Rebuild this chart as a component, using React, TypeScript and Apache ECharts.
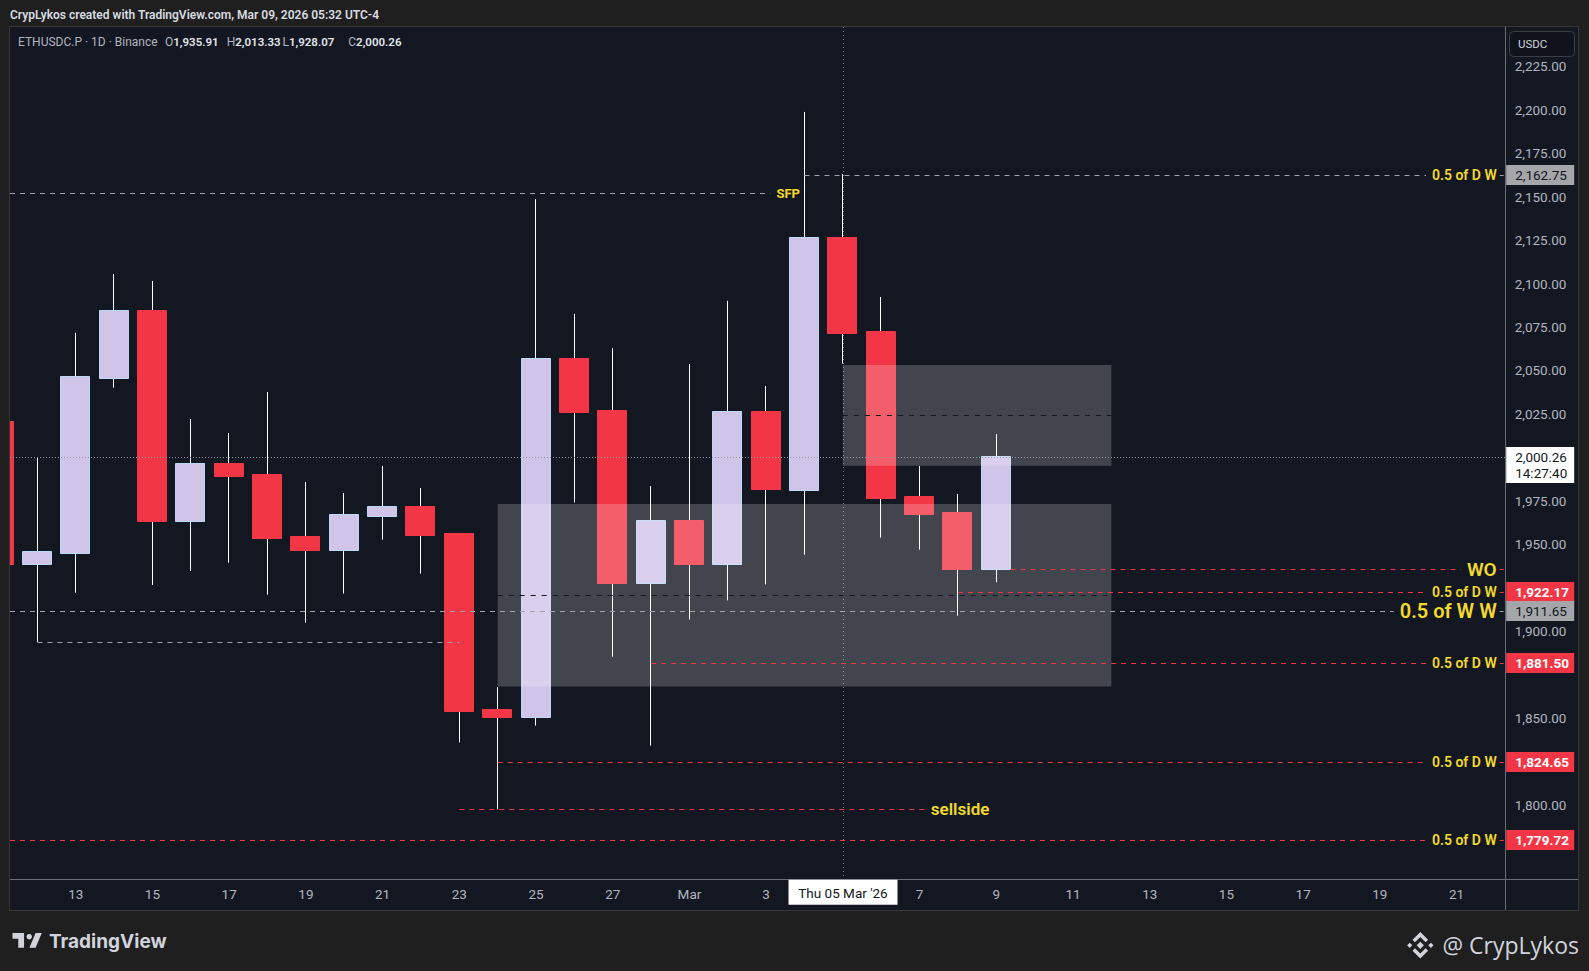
import React, { useEffect, useRef } from "react";
import * as echarts from "echarts";

// ---------------- data ----------------
const candleDates = [
  "Feb 11", "Feb 12", "Feb 13", "Feb 14", "Feb 15", "Feb 16", "Feb 17", "Feb 18", "Feb 19",
  "Feb 20", "Feb 21", "Feb 22", "Feb 23", "Feb 24", "Feb 25", "Feb 26", "Feb 27", "Feb 28",
  "Mar 1", "Mar 2", "Mar 3", "Mar 4", "Mar 5", "Mar 6", "Mar 7", "Mar 8", "Mar 9",
];
const opens = [2020.3, 1938.4, 1945.1, 2045.8, 2084.2, 1963.5, 1996.1, 1989.8, 1954.1, 1946.8, 1966.4, 1971.4, 1955.8, 1854.6, 1850.7, 2056.5, 2026.7, 1927.7, 1963.4, 1938.3, 2026.2, 1981.3, 2126.3, 2072.1, 1977.1, 1967.9, 1935.91];
const closes = [1938.4, 1945.3, 2046.1, 2084.2, 1963.5, 1996.0, 1989.2, 1953.7, 1946.6, 1966.6, 1971.4, 1955.3, 1854.2, 1850.4, 2056.5, 2026.2, 1927.7, 1963.4, 1938.3, 2026.2, 1981.5, 2126.3, 2071.7, 1976.7, 1967.5, 1935.9, 2000.26];
const lows = [1925.0, 1893.7, 1922.0, 2040.1, 1926.5, 1934.5, 1939.3, 1920.9, 1904.8, 1921.5, 1952.6, 1933.0, 1835.9, 1797.3, 1845.5, 1974.0, 1885.2, 1834.0, 1906.6, 1917.6, 1926.8, 1943.9, 2053.9, 1953.7, 1946.8, 1908.8, 1928.07];
const highs = [2031.0, 1999.8, 2071.6, 2105.5, 2101.5, 2022.0, 2014.0, 2037.6, 1985.8, 1979.4, 1995.0, 1982.3, 1956.4, 1867.8, 2148.6, 2082.6, 2062.8, 1983.4, 2053.7, 2090.1, 2041.0, 2198.8, 2163.1, 2092.3, 1995.0, 1978.9, 2013.33];

// time axis ticks (day index from Feb 11) and their labels
const xTickIdx = [2, 4, 6, 8, 10, 12, 14, 16, 18, 20, 24, 26, 28, 30, 32, 34, 36, 38];
const xTickLabels = ["13", "15", "17", "19", "21", "23", "25", "27", "Mar", "3", "7", "9", "11", "13", "15", "17", "19", "21"];
const yTickValues = [1800, 1825, 1850, 1900, 1950, 1975, 2025, 2050, 2075, 2100, 2125, 2150, 2175, 2200, 2225];

// horizontal levels: start / end day index (-10 = from left edge, 40 = ray to the right)
const levelValues = [2152.2, 2162.75, 1935.91, 1922.17, 1911.65, 1881.5, 1824.65, 1779.72, 1797.3, 1893.7, 2000.26];
const levelStarts = [-10, 21, 26.37, 25, -10, 17, 13, -10, 12, 1, -10];
const levelEnds = [20.88, 40, 40, 40, 40, 40, 40, 40, 25.82, 12, 40];
const levelLabels = ["SFP", "0.5 of D W", "WO", "0.5 of D W", "0.5 of W W", "0.5 of D W", "0.5 of D W", "0.5 of D W", "sellside", "", ""];
const levelKinds = ["gray", "gray", "red", "red", "gray", "red", "red", "red", "red", "gray", "dot"];

// rectangles (zones)
const zoneStarts = [22, 13];
const zoneEnds = [29, 29];
const zoneTops = [2053.14, 1973.06];
const zoneBottoms = [1995.16, 1868.05];

// price scale tags
const tagValues = [2162.75, 1922.17, 1911.65, 1881.5, 1824.65, 1779.72, 2000.26];
const tagKinds = ["gray", "red", "gray", "red", "red", "red", "last"];
const countdown = "14:27:40";
const crosshairIdx = 22;
const crosshairLabel = "Thu 05 Mar '26";

// ---------------- layout / style ----------------
const W = 1589;
const H = 971;
const GRID_L = 10;
const GRID_T = 27;
const GRID_W = 1495.7;
const GRID_H = 852.3;
const DAY_PX = 38.356;
const IDX0_PX = -0.956;
const X_MIN = (GRID_L - IDX0_PX) / DAY_PX;
const X_MAX = (GRID_L + GRID_W - IDX0_PX) / DAY_PX;
const Y_MIN = 1757.05;
const Y_MAX = 2247.7;

const FONT = 'Roboto, "Noto Sans", sans-serif';
const FRAME = "#1f1f1f";
const BG = "#131722";
const BULL = "#d1c4e9";
const BULL_BORDER = "#b9d9f7";
const BEAR = "#f23645";
const RED = "#f23645";
const GRAY = "#a0a3ab";
const DOT = "#9598a1";
const YELLOW = "#f3da2b";
const AXIS_TEXT = "#b2b5be";
const AXIS_LINE = "#6a6d78";
const BODY_W = 27;

const LABEL_STYLE: Record<string, { size: number; weight: number }> = {
  SFP: { size: 13, weight: 700 },
  "0.5 of D W": { size: 14, weight: 600 },
  WO: { size: 19, weight: 600 },
  "0.5 of W W": { size: 20, weight: 600 },
  sellside: { size: 17, weight: 600 },
};

let measureCtx: CanvasRenderingContext2D | null = null;
function textWidth(text: string, size: number, weight: number): number {
  if (!measureCtx) measureCtx = document.createElement("canvas").getContext("2d");
  if (!measureCtx) return text.length * size * 0.55;
  measureCtx.font = `${weight} ${size}px ${FONT}`;
  return measureCtx.measureText(text).width;
}

const fmt2 = (v: number) =>
  v.toLocaleString("en-US", { minimumFractionDigits: 2, maximumFractionDigits: 2 });

const xLabelMap: Record<number, string> = {};
xTickIdx.forEach((v, i) => (xLabelMap[v] = xTickLabels[i]));

function buildOption() {
  const last = candleDates.length - 1;
  const candleData = candleDates.map((_, i) => [i, opens[i], closes[i], lows[i], highs[i]]);
  const bodyData = candleDates.map((_, i) => [i, opens[i], closes[i]]);
  const zoneData = zoneStarts.map((s, i) => [s, zoneEnds[i], zoneTops[i], zoneBottoms[i]]);
  const levelData = levelValues.map((v, i) => [levelStarts[i], levelEnds[i], v]);
  const tagData = tagValues.map((v) => [X_MAX, v]);

  const dashLine = (x1: number, x2: number, y: number, stroke: string, dash: number[] | null) => ({
    type: "line",
    shape: { x1, y1: y, x2, y2: y },
    style: { stroke, lineWidth: 1, lineDash: dash || undefined },
  });

  const legendItems = [
    { x: 165, k: "O", v: fmt2(opens[last]) },
    { x: 226.7, k: "H", v: fmt2(highs[last]) },
    { x: 282.5, k: "L", v: fmt2(lows[last]) },
    { x: 348.3, k: "C", v: fmt2(closes[last]) },
  ];

  // TradingView logo (units -> px)
  const ls = 0.825, lox = 12.5, loy = 929.7;
  const lp = (pts: number[][]) => pts.map(([a, b]) => [lox + a * ls, loy + b * ls]);

  const bx = 1420.3, by = 945.3;
  const diamond = (cx: number, cy: number, r: number) => [[cx, cy - r], [cx + r, cy], [cx, cy + r], [cx - r, cy]];

  return {
    animation: false,
    backgroundColor: "transparent",
    grid: { left: GRID_L, top: GRID_T, width: GRID_W, height: GRID_H, containLabel: false, outerBoundsMode: "none" },
    xAxis: {
      type: "value",
      min: X_MIN,
      max: X_MAX,
      splitLine: { show: false },
      axisTick: { show: false },
      axisLine: { show: true, onZero: false, lineStyle: { color: AXIS_LINE, width: 1 } },
      axisLabel: {
        customValues: xTickIdx,
        formatter: (v: number) => xLabelMap[Math.round(v)] ?? "",
        color: AXIS_TEXT,
        fontSize: 13.5,
        fontFamily: FONT,
        margin: 8,
      },
    },
    yAxis: {
      type: "value",
      position: "right",
      min: Y_MIN,
      max: Y_MAX,
      splitLine: { show: false },
      axisTick: { show: false },
      axisLine: { show: true, lineStyle: { color: AXIS_LINE, width: 1 } },
      axisLabel: {
        customValues: yTickValues,
        formatter: (v: number) => fmt2(v),
        color: AXIS_TEXT,
        fontSize: 13.5,
        fontFamily: FONT,
        margin: 9,
        align: "left",
      },
    },
    series: [
      {
        type: "custom",
        name: "crosshair",
        z: 1,
        silent: true,
        clip: false,
        data: [[crosshairIdx, Y_MIN]],
        renderItem: (params: any, api: any) => {
          const cs = params.coordSys;
          const x = Math.round(api.coord([api.value(0), api.value(1)])[0]) + 0.5;
          const bottom = cs.y + cs.height;
          return {
            type: "group",
            children: [
              { type: "line", shape: { x1: x, y1: cs.y, x2: x, y2: bottom }, style: { stroke: "#787b86", lineWidth: 1, lineDash: [1, 3] } },
              { type: "rect", shape: { x: x - 55, y: bottom + 0.5, width: 109, height: 25 }, style: { fill: "#ffffff" } },
              {
                type: "text",
                x: x - 0.5,
                y: bottom + 13.5,
                style: { text: crosshairLabel, fill: "#131722", fontSize: 13.5, fontFamily: FONT, align: "center", verticalAlign: "middle" },
              },
            ],
          };
        },
      },
      {
        type: "candlestick",
        name: "ETHUSDC.P",
        z: 2,
        silent: true,
        clip: true,
        barWidth: BODY_W,
        data: candleData,
        itemStyle: { color: BULL, color0: BEAR, borderColor: "#ffffff", borderColor0: "#ffffff", borderWidth: 1 },
      },
      {
        type: "custom",
        name: "bodies",
        z: 3,
        silent: true,
        clip: true,
        data: bodyData,
        renderItem: (params: any, api: any) => {
          const cs = params.coordSys;
          const x = api.value(0), o = api.value(1), c = api.value(2);
          const po = api.coord([x, o]);
          const pc = api.coord([x, c]);
          const bull = c >= o;
          const top = Math.round(Math.min(po[1], pc[1])) - 0.5;
          const bot = Math.round(Math.max(po[1], pc[1])) + 0.5;
          let left = Math.round(po[0] - BODY_W / 2) - 1.5;
          const right = left + BODY_W + 2;
          left = Math.max(left, cs.x + 0.5);
          return {
            type: "rect",
            shape: { x: left, y: top, width: Math.max(0, right - left), height: Math.max(1, bot - top) },
            style: { fill: bull ? BULL : BEAR, stroke: bull ? BULL_BORDER : BEAR, lineWidth: 1 },
          };
        },
      },
      {
        type: "custom",
        name: "zones",
        z: 4,
        silent: true,
        clip: true,
        data: zoneData,
        renderItem: (params: any, api: any) => {
          const p1 = api.coord([api.value(0), api.value(2)]);
          const p2 = api.coord([api.value(1), api.value(3)]);
          const midY = Math.round((p1[1] + p2[1]) / 2) + 0.5;
          return {
            type: "group",
            children: [
              { type: "rect", shape: { x: p1[0], y: p1[1], width: p2[0] - p1[0], height: p2[1] - p1[1] }, style: { fill: "rgba(255,255,255,0.2)" } },
              dashLine(p1[0], p2[0], midY, "#15171d", [5, 6]),
            ],
          };
        },
      },
      {
        type: "custom",
        name: "levels",
        z: 5,
        silent: true,
        clip: true,
        data: levelData,
        renderItem: (params: any, api: any) => {
          const i = params.dataIndex;
          const cs = params.coordSys;
          const gl = cs.x, gr = cs.x + cs.width;
          const v = api.value(2);
          const y = Math.round(api.coord([0, v])[1]) + 0.5;
          const xs = Math.max(gl, api.coord([api.value(0), v])[0]);
          const xeRaw = api.coord([api.value(1), v])[0];
          const ray = xeRaw >= gr;
          const kind = levelKinds[i];
          const stroke = kind === "red" ? RED : kind === "dot" ? DOT : GRAY;
          const dash = kind === "dot" ? [1, 2] : [5, 5];
          const label = levelLabels[i];
          const children: any[] = [];
          if (!label) {
            children.push(dashLine(xs, Math.min(xeRaw, gr), y, stroke, dash));
          } else {
            const st = LABEL_STYLE[label];
            const w = textWidth(label, st.size, st.weight);
            const right = ray ? gr - 9 : xeRaw;
            children.push(dashLine(xs, right - w - 6, y, stroke, dash));
            if (ray) children.push(dashLine(gr - 6, gr - 2, y, stroke, null));
            children.push({
              type: "text",
              x: right,
              y: y - 0.5,
              style: { text: label, fill: YELLOW, fontSize: st.size, fontWeight: st.weight, fontFamily: FONT, align: "right", verticalAlign: "middle" },
            });
          }
          return { type: "group", children };
        },
      },
      {
        type: "custom",
        name: "price tags",
        z: 10,
        silent: true,
        clip: false,
        data: tagData,
        renderItem: (params: any, api: any) => {
          const i = params.dataIndex;
          const cs = params.coordSys;
          const gr = cs.x + cs.width;
          const v = api.value(1);
          const y = Math.round(api.coord([api.value(0), v])[1]);
          const kind = tagKinds[i];
          if (kind === "last") {
            return {
              type: "group",
              children: [
                { type: "rect", shape: { x: gr + 0.5, y: y - 10, width: 68, height: 36 }, style: { fill: "#ffffff" } },
                { type: "text", x: gr + 9.5, y: y, style: { text: fmt2(v), fill: "#131722", fontSize: 13.5, fontFamily: FONT, align: "left", verticalAlign: "middle" } },
                { type: "text", x: gr + 9.5, y: y + 15.5, style: { text: countdown, fill: "#131722", fontSize: 13.5, fontFamily: FONT, align: "left", verticalAlign: "middle" } },
              ],
            };
          }
          const red = kind === "red";
          return {
            type: "group",
            children: [
              { type: "rect", shape: { x: gr + 0.5, y: y - 10, width: 68, height: 20 }, style: { fill: red ? RED : "#a5a6aa" } },
              {
                type: "text",
                x: gr + 9.5,
                y: y,
                style: { text: fmt2(v), fill: red ? "#ffffff" : "#131722", fontSize: 13.5, fontWeight: red ? 700 : 400, fontFamily: FONT, align: "left", verticalAlign: "middle" },
              },
            ],
          };
        },
      },
    ],
    graphic: [
      // frame margin to the left of the pane (hides the part of the first candle outside the pane)
      { type: "rect", z: 100, shape: { x: 0, y: 26, width: 9, height: 886 }, style: { fill: FRAME } },
      { type: "line", z: 100, shape: { x1: 9.5, y1: 26, x2: 9.5, y2: 911 }, style: { stroke: "#383838", lineWidth: 1 } },
      {
        type: "text",
        x: 10,
        y: 14.5,
        style: { text: "CrypLykos created with TradingView.com, Mar 09, 2026 05:32 UTC-4", fill: "#d9dbe0", fontSize: 12, fontWeight: 600, fontFamily: FONT, verticalAlign: "middle" },
      },
      {
        type: "text",
        x: 18,
        y: 41.7,
        style: { text: "ETHUSDC.P · 1D · Binance", fill: AXIS_TEXT, fontSize: 12, fontFamily: FONT, verticalAlign: "middle" },
      },
      ...legendItems.map((it) => ({
        type: "text",
        x: it.x,
        y: 41.7,
        style: {
          text: `{k|${it.k}}{v|${it.v}}`,
          verticalAlign: "middle",
          rich: {
            k: { fill: AXIS_TEXT, fontSize: 12, fontFamily: FONT },
            v: { fill: "#e3e5ea", fontSize: 11.5, fontWeight: 600, fontFamily: FONT },
          },
        },
      })),
      {
        type: "rect",
        shape: { x: 1509.5, y: 31.5, width: 65, height: 25, r: 4 },
        style: { fill: "#10131b", stroke: "#3b3e47", lineWidth: 1 },
      },
      {
        type: "text",
        x: 1518,
        y: 44.3,
        style: { text: "USDC", fill: "#d1d4dc", fontSize: 11.5, fontFamily: FONT, verticalAlign: "middle" },
      },
      { type: "line", shape: { x1: 1505.5, y1: 879, x2: 1505.5, y2: 910 }, style: { stroke: AXIS_LINE, lineWidth: 1 } },
      { type: "line", shape: { x1: 1505.5, y1: 879.5, x2: 1578, y2: 879.5 }, style: { stroke: AXIS_LINE, lineWidth: 1 } },
      // TradingView logo
      { type: "polygon", shape: { points: lp([[0, 4], [14, 4], [14, 22], [7, 22], [7, 11], [0, 11]]) }, style: { fill: "#d1d4dc" } },
      { type: "polygon", shape: { points: lp([[20.5, 22], [28, 4], [35.5, 4], [28, 22]]) }, style: { fill: "#d1d4dc" } },
      { type: "circle", shape: { cx: lox + 20.3 * ls, cy: loy + 8.5 * ls, r: 3.3 * ls }, style: { fill: "#d1d4dc" } },
      {
        type: "text",
        x: 49,
        y: 941,
        style: { text: "TradingView", fill: "#d1d4dc", fontSize: 19, fontWeight: 700, fontFamily: 'Inter, Roboto, sans-serif', verticalAlign: "middle" },
      },
      // Binance-like icon
      { type: "polygon", shape: { points: diamond(bx, by, 3.6) }, style: { fill: "#d1d4dc" } },
      { type: "polygon", shape: { points: diamond(bx - 10.6, by, 2.6) }, style: { fill: "#d1d4dc" } },
      { type: "polygon", shape: { points: diamond(bx + 10.6, by, 2.6) }, style: { fill: "#d1d4dc" } },
      {
        type: "polygon",
        shape: { points: [[bx, by - 13.3], [bx + 7.8, by - 5.5], [bx + 5.3, by - 3], [bx, by - 8.3], [bx - 5.3, by - 3], [bx - 7.8, by - 5.5]] },
        style: { fill: "#d1d4dc" },
      },
      {
        type: "polygon",
        shape: { points: [[bx, by + 13.3], [bx + 7.8, by + 5.5], [bx + 5.3, by + 3], [bx, by + 8.3], [bx - 5.3, by + 3], [bx - 7.8, by + 5.5]] },
        style: { fill: "#d1d4dc" },
      },
      {
        type: "text",
        x: 1579,
        y: 945,
        style: { text: "@ CrypLykos", fill: "#d1d4dc", fontSize: 23, fontFamily: '"Open Sans", "Noto Sans", sans-serif', align: "right", verticalAlign: "middle" },
      },
    ],
  };
}

export default function App() {
  const ref = useRef<HTMLDivElement>(null);
  useEffect(() => {
    if (!ref.current) return;
    const chart = echarts.init(ref.current, null, { renderer: "svg" });
    chart.setOption(buildOption() as any);
    return () => chart.dispose();
  }, []);
  return (
    <div style={{ position: "fixed", left: 0, top: 0, width: W, height: H, background: FRAME, overflow: "hidden" }}>
      <div
        style={{
          position: "absolute",
          left: 9,
          top: 26,
          width: 1570,
          height: 885,
          background: BG,
          border: "1px solid #383838",
          boxSizing: "border-box",
        }}
      />
      <div ref={ref} style={{ position: "absolute", left: 0, top: 0, width: W, height: H }} />
    </div>
  );
}
